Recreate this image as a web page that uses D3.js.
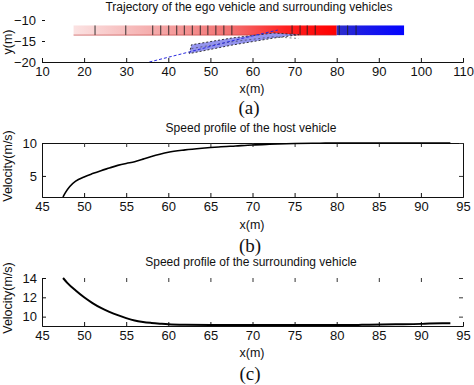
<!DOCTYPE html>
<html>
<head>
<meta charset="utf-8">
<script src="https://cdn.jsdelivr.net/npm/d3@7"></script>
<style>
  body { margin: 0; background: #fff; }
  text { font-family: "Liberation Sans", Arial, sans-serif; fill: #111; }
  .cap { font-family: "Liberation Serif", "Times New Roman", serif; }
</style>
</head>
<body>
<div id="chart-area"></div>
<script>
// panel (a) data: ego bar, vehicle outlines, surrounding vehicle path
var egoRange = [17.5, 80];
var otherRange = [80, 96];
var barY = [-11.3, -13.6];
var egoStops = [[17.5, "#fbe2e2"], [35, "#f5b0b0"], [55, "#f27070"], [68, "#ff2020"], [80, "#ff0000"]];
var otherStops = [[80, "#3030c8"], [86, "#1a1ae6"], [96, "#0404ff"]];
var carEdges = [22.6, 29.9, 36.3, 38.2, 40.1, 42.0, 43.8, 45.7, 47.6, 49.4, 51.3, 53.2, 55.1,
  69.4, 71.3, 73.0, 74.9, 80.6, 82.6, 84.6];
var pathX = [35.5, 45, 55, 66];
var pathY = [-20, -17.6, -15.0, -12.4];
var patchX = [45, 45.5, 55, 65, 71, 65, 55, 45];
var patchY = [-18.0, -15.9, -14.3, -13.1, -13.5, -14.3, -16.0, -18.0];

// panel (b) host vehicle speed
var hostX = [47.5, 47.8, 48.3, 49, 50, 51, 52, 53, 54, 55, 56, 57, 58, 59, 60, 62, 64, 66, 68, 70, 72, 75, 78, 80, 85, 90, 93.5];
var hostV = [1.8, 2.5, 3.4, 4.2, 4.85, 5.35, 5.8, 6.2, 6.6, 6.9, 7.15, 7.55, 7.95, 8.3, 8.6, 8.95, 9.2, 9.4, 9.55, 9.7, 9.8, 9.92, 9.97, 10, 10, 10, 10];

// panel (c) surrounding vehicle speed
var surX = [47.5, 48, 49, 50, 51, 52, 53, 54, 55, 56, 57, 58, 59, 60, 62, 65, 70, 75, 80, 83, 87, 90, 91, 93.5];
var surV = [14, 13.5, 12.7, 12.0, 11.4, 10.9, 10.5, 10.15, 9.85, 9.6, 9.45, 9.35, 9.27, 9.2, 9.15, 9.13, 9.13, 9.13, 9.13, 9.15, 9.2, 9.25, 9.3, 9.32];

var W = 474, H = 385;
var svg = d3.select("#chart-area").append("svg")
  .attr("width", W).attr("height", H);

var left = 42, right = 463;
var tickFont = "13px";

// ---------- panel (a)
var xA = d3.scaleLinear().domain([10, 110]).range([left, right]);
var yA = d3.scaleLinear().domain([-20, -10]).range([62, 20]);

var defs = svg.append("defs");
function grad(id, stops) {
  var g = defs.append("linearGradient").attr("id", id)
    .attr("gradientUnits", "userSpaceOnUse")
    .attr("x1", xA(stops[0][0])).attr("x2", xA(stops[stops.length - 1][0]))
    .attr("y1", 0).attr("y2", 0);
  var span = stops[stops.length - 1][0] - stops[0][0];
  stops.forEach(function(s) {
    g.append("stop").attr("offset", (s[0] - stops[0][0]) / span).attr("stop-color", s[1]);
  });
}
grad("egoGrad", egoStops);
grad("otherGrad", otherStops);

var gA = svg.append("g");
gA.append("rect")
  .attr("x", xA(egoRange[0])).attr("width", xA(egoRange[1]) - xA(egoRange[0]))
  .attr("y", yA(barY[0])).attr("height", yA(barY[1]) - yA(barY[0]))
  .attr("fill", "url(#egoGrad)");
gA.append("rect")
  .attr("x", xA(otherRange[0])).attr("width", xA(otherRange[1]) - xA(otherRange[0]))
  .attr("y", yA(barY[0])).attr("height", yA(barY[1]) - yA(barY[0]))
  .attr("fill", "url(#otherGrad)");

// vehicle outlines along the bar
gA.selectAll(".edge").data(carEdges).enter().append("line")
  .attr("x1", function(d) { return xA(d); }).attr("x2", function(d) { return xA(d); })
  .attr("y1", yA(barY[0])).attr("y2", yA(barY[1]))
  .attr("stroke", "#222").attr("stroke-width", 0.9);
gA.append("line")
  .attr("x1", xA(egoRange[0])).attr("x2", xA(egoRange[1]))
  .attr("y1", yA(barY[1])).attr("y2", yA(barY[1]))
  .attr("stroke", "#c03030").attr("stroke-width", 0.6);

// surrounding vehicle patch
var patchPts = patchX.map(function(d, i) { return [xA(d), yA(patchY[i])]; });
gA.append("path")
  .attr("d", d3.line()(patchPts))
  .attr("fill", "#9494ee").attr("stroke", "#222")
  .attr("stroke-width", 0.9).attr("stroke-dasharray", "2,2");
gA.append("path")
  .attr("d", d3.line()(patchX.slice(1, 5).map(function(d, i) { return [xA(d), yA(patchY[i + 1] - 0.9)]; })))
  .attr("fill", "none").attr("stroke", "#445").attr("stroke-width", 0.7).attr("stroke-dasharray", "2,2.5");

var pathPts = pathX.map(function(d, i) { return [xA(d), yA(pathY[i])]; });
gA.append("path")
  .attr("d", d3.line().curve(d3.curveMonotoneX)(pathPts))
  .attr("fill", "none").attr("stroke", "#2a2ae0")
  .attr("stroke-width", 1).attr("stroke-dasharray", "3,2");

// x axis of (a)
var axA = gA.append("g").attr("transform", "translate(0," + yA(-20) + ")")
  .call(d3.axisBottom(xA).tickValues(d3.range(10, 111, 10)).tickSize(-4).tickPadding(5));
axA.select(".domain").attr("stroke", "#111");
axA.selectAll("text").style("font-size", tickFont).attr("fill", "#111");
axA.selectAll("line").attr("stroke", "#111");

var ayA = gA.append("g").attr("transform", "translate(" + left + ",0)")
  .call(d3.axisLeft(yA).tickValues([-20, -15, -10]).tickSize(-3).tickPadding(6));
ayA.select(".domain").remove();
ayA.selectAll("text").style("font-size", tickFont).attr("fill", "#111");
ayA.selectAll("line").attr("stroke", "#111");

svg.append("text").attr("x", 249).attr("y", 11).attr("text-anchor", "middle")
  .style("font-size", "12px").text("Trajectory of the ego vehicle and surrounding vehicles");
svg.append("text").attr("transform", "translate(12,42) rotate(-90)")
  .attr("text-anchor", "middle").style("font-size", "12.5px").text("y(m)");
svg.append("text").attr("x", 252).attr("y", 93).attr("text-anchor", "middle")
  .style("font-size", "12.5px").text("x(m)");
svg.append("text").attr("class", "cap").attr("x", 249).attr("y", 114).attr("text-anchor", "middle")
  .style("font-size", "19px").text("(a)");

// ---------- speed panels
function speedPanel(top, bottom, yDom, yTicks, xs, vs, title, titleY, labY, capY, cap, box, lineW) {
  var x = d3.scaleLinear().domain([45, 95]).range([left, right]);
  var y = d3.scaleLinear().domain(yDom).range([bottom, top]);
  var g = svg.append("g");

  var ax = g.append("g").attr("transform", "translate(0," + bottom + ")")
    .call(d3.axisBottom(x).tickValues(d3.range(45, 96, 5)).tickSize(-4).tickPadding(5));
  ax.selectAll("text").style("font-size", tickFont).attr("fill", "#111");
  ax.selectAll("line").attr("stroke", "#111");
  ax.select(".domain").attr("stroke", "#111");

  var ay = g.append("g").attr("transform", "translate(" + left + ",0)")
    .call(d3.axisLeft(y).tickValues(yTicks).tickFormat(d3.format("d")).tickSize(-4).tickPadding(5).tickSizeOuter(0));
  ay.selectAll("text").style("font-size", tickFont).attr("fill", "#111");
  ay.selectAll("line").attr("stroke", "#111");
  ay.select(".domain").attr("stroke", "#111");

  // top and right ticks
  var topAx = g.append("g").attr("transform", "translate(0," + top + ")")
    .call(d3.axisTop(x).tickValues(d3.range(50, 95, 5)).tickSize(-4).tickFormat(""));
  var rightAx = g.append("g").attr("transform", "translate(" + right + ",0)")
    .call(d3.axisRight(y).tickValues(yTicks).tickSize(-4).tickFormat("").tickSizeOuter(0));
  topAx.selectAll("line").attr("stroke", "#333");
  rightAx.selectAll("line").attr("stroke", "#333");
  if (box) {
    topAx.select(".domain").attr("stroke", "#111");
    rightAx.select(".domain").attr("stroke", "#111");
  } else {
    topAx.select(".domain").remove();
    rightAx.select(".domain").remove();
  }

  g.append("path")
    .attr("d", d3.line().x(function(d, i) { return x(xs[i]); }).y(function(d) { return y(d); }).curve(d3.curveMonotoneX)(vs))
    .attr("fill", "none").attr("stroke", "#000").attr("stroke-width", lineW);

  svg.append("text").attr("x", 251).attr("y", titleY).attr("text-anchor", "middle")
    .style("font-size", "12px").text(title);
  svg.append("text").attr("transform", "translate(12," + ((top + bottom) / 2 - 4) + ") rotate(-90)")
    .attr("text-anchor", "middle").style("font-size", "12.5px").text("Velocity(m/s)");
  svg.append("text").attr("x", 252).attr("y", labY).attr("text-anchor", "middle")
    .style("font-size", "12.5px").text("x(m)");
  svg.append("text").attr("class", "cap").attr("x", 250).attr("y", capY).attr("text-anchor", "middle")
    .style("font-size", "19px").text(cap);
}

speedPanel(143, 197, [1.8, 10], [5, 10], hostX, hostV,
  "Speed profile of the host vehicle", 132, 229, 252, "(b)", true, 1.6);
speedPanel(278, 326, [9.03, 14], [10, 12, 14], surX, surV,
  "Speed profile of the surrounding vehicle", 266, 357, 380, "(c)", false, 2);
</script>
</body>
</html>
